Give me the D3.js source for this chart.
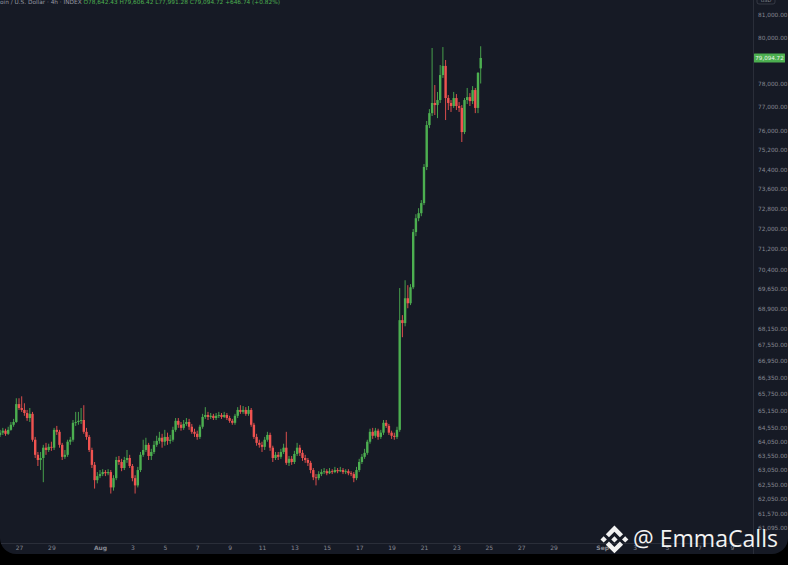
<!DOCTYPE html>
<html><head><meta charset="utf-8">
<script src="https://cdn.jsdelivr.net/npm/d3@7/dist/d3.min.js"></script>
<style>html,body{margin:0;padding:0;background:#000;}svg{display:block;}</style>
</head><body>
<svg id="chart" width="788" height="565"></svg>
<script>
// ---- DATA (4h candles, BTC/USD index) ----
const startTime = Date.UTC(2024, 6, 25, 20); // first visible candle
const barHours = 4;
const opens = [
64280,64360,64430,64320,64460,64640,64740,65380,65240,65170,
65060,64880,65030,64110,63580,63400,63470,63830,63750,63860,
63830,64460,64390,63930,63510,63580,64040,64110,64710,64740,
64780,64810,64390,64210,63750,63230,62700,62840,62910,62980,
62940,62980,62450,62770,63400,63330,63120,63400,63470,63190,
62770,62520,63050,63580,63750,63930,63540,63680,63930,64070,
64180,64040,64210,64070,64110,64460,64780,64640,64530,64670,
64740,64570,64390,64320,64210,64570,64920,64990,64920,64960,
64880,64960,64990,64920,64990,64880,64780,64710,64960,65170,
65100,65170,65030,65170,64640,64210,64000,63930,63860,64110,
64280,63830,63470,63580,63510,63680,63830,63300,63440,63330,
63610,63830,63650,63470,63400,63300,63050,62800,62770,62910,
62980,63010,62940,63010,62980,63050,63010,63050,62980,63010,
62940,62910,62770,63050,63330,63510,63650,64040,64390,64250,
64430,64210,64360,64710,64600,64360,64250,64210,64460,68470,
68360,69300,69110,69720,71870,72420,72620,73025,74490,76228,
76730,77160,77072,77285,78355,78750,77370,77160,77030,77370,
77030,76950,75935,77285,77410,77240,77711,76950,78642.43];
const highs = [
64460,64530,64500,64570,64740,64850,65590,65590,65660,65410,
65170,65240,65100,64210,63680,63680,63930,64000,63970,64040,
64530,64600,64460,64000,63750,64110,64210,64810,65100,65100,
65240,65340,64530,64280,63830,63330,62980,63050,63080,63050,
63080,63050,62870,63510,63540,63440,63510,63750,63580,63260,
62870,63160,63680,64110,64180,64000,63790,64070,64250,64390,
64320,64460,64360,64280,64570,64880,64880,64740,64810,64880,
64850,64670,64500,64430,64640,65030,65270,65100,65060,65030,
65060,65100,65060,65100,65060,64960,64850,65030,65270,65340,
65310,65270,65310,65240,64710,64320,64110,64040,64210,64390,
64360,63900,63680,63680,63790,63970,64390,63540,63540,63720,
64000,63930,63750,63580,63470,63370,63120,62910,63010,63080,
63120,63080,63120,63080,63160,63120,63160,63120,63080,63080,
63010,62980,63160,63440,63610,63790,64110,64500,64530,64530,
64500,64460,64810,64810,64670,64430,64360,64570,69690,68660,
69990,69800,69840,71990,72580,72820,73145,74610,76400,76900,
79530,77925,77630,78788,79570,79005,77498,77285,77630,77540,
77200,77072,77370,77800,77580,77880,77800,78485,79606.42];
const lows = [
64210,64280,64250,64280,64430,64570,64710,65170,65100,64960,
64780,64740,64040,63470,63190,63050,62630,63580,63680,63720,
63750,64280,63830,63400,63440,63510,63930,64040,64600,64640,
64670,64320,64110,63680,63120,62410,62590,62770,62840,62840,
62870,62240,62340,62700,63230,63010,63050,63300,63120,62660,
62240,62450,62980,63510,63680,63400,63400,63610,63860,63970,
63830,63900,63930,63970,64040,64390,64530,64430,64460,64600,
64460,64320,64210,64110,64140,64500,64850,64810,64850,64810,
64810,64880,64850,64880,64810,64710,64640,64640,64880,65030,
65030,64960,64960,64570,64140,63900,63830,63680,63750,64040,
63720,63330,63400,63400,63440,63610,63230,63190,63230,63260,
63540,63540,63370,63300,63190,62940,62700,62520,62700,62840,
62910,62870,62910,62910,62940,62940,62980,62910,62910,62870,
62840,62630,62700,62980,63260,63440,63580,63970,64140,64180,
64110,64140,64280,64530,64280,64140,64110,64140,64390,67830,
68240,68920,69040,69650,71710,72300,72500,72945,74363,76100,
76610,76650,76520,77160,78230,76439,76861,76780,76950,76861,
76780,75520,75850,77115,77030,77115,76730,76730,77991.28];
const closes = [
64360,64430,64320,64460,64640,64740,65380,65240,65170,65060,
64880,65030,64110,63580,63400,63470,63830,63750,63860,63830,
64460,64390,63930,63510,63580,64040,64110,64710,64740,64780,
64810,64390,64210,63750,63230,62700,62840,62910,62980,62940,
62980,62450,62770,63400,63330,63120,63400,63470,63190,62770,
62520,63050,63580,63750,63930,63540,63680,63930,64070,64180,
64040,64210,64070,64110,64460,64780,64640,64530,64670,64740,
64570,64390,64320,64210,64570,64920,64990,64920,64960,64880,
64960,64990,64920,64990,64880,64780,64710,64960,65170,65100,
65170,65030,65170,64640,64210,64000,63930,63860,64110,64280,
63830,63470,63580,63510,63680,63830,63300,63440,63330,63610,
63830,63650,63470,63400,63300,63050,62800,62770,62910,62980,
63010,62940,63010,62980,63050,63010,63050,62980,63010,62940,
62910,62770,63050,63330,63510,63650,64040,64390,64250,64430,
64210,64360,64710,64600,64360,64250,64210,64460,68470,68360,
69300,69110,69720,71870,72420,72620,73025,74490,76228,76730,
77160,77072,77285,78355,78750,77370,77160,77030,77370,77030,
76950,75935,77285,77410,77240,77711,76950,78447.98,79094.72];
const priceTicks = [81000,80000,78000,77000,76000,75200,74400,73600,72800,72000,71200,70400,
  69650,68900,68150,67550,66950,66350,65750,65150,64550,64050,63550,63050,62550,62050,61570,61095];
const dateTicks = ["2024-07-27","2024-07-29","2024-08-01","2024-08-03","2024-08-05","2024-08-07","2024-08-09",
  "2024-08-11","2024-08-13","2024-08-15","2024-08-17","2024-08-19","2024-08-21","2024-08-23","2024-08-25",
  "2024-08-27","2024-08-29","2024-09-01","2024-09-03","2024-09-05","2024-09-07","2024-09-09"];
const headerSymbol = "Bitcoin / U.S. Dollar · 4h · INDEX";
const headerValues = "O78,642.43 H79,606.42 L77,991.28 C79,094.72 +646.74 (+0.82%)";
const lastPrice = 79094.72;
const currency = "USD";
const watermark = "@ EmmaCalls";

// ---- DRAW ----
const W = 788, H = 565;
const bg = "#161a25", axisCol = "#2a2e39", txt = "#868993";
const up = "#4caf50", down = "#ef5350";
const svg = d3.select("#chart");

const bars = opens.map((o, i) => ({
  t: new Date(startTime + i * barHours * 3600e3), o, h: highs[i], l: lows[i], c: closes[i]
}));

const x = d3.scaleUtc().domain([new Date(Date.UTC(2024,6,26)), new Date(Date.UTC(2024,8,10))]).range([2.8, 748]);
const y = d3.scaleLog().domain([61095, 81000]).range([527.3, 14.7]);

svg.append("rect").attr("width", W).attr("height", H).attr("fill", "#000");
const defs = svg.append("defs");
defs.append("clipPath").attr("id", "frame").append("rect")
  .attr("x", 0).attr("y", -30).attr("width", W).attr("height", 584).attr("rx", 16);
defs.append("clipPath").attr("id", "plot").append("rect")
  .attr("x", 0).attr("y", 0).attr("width", 753).attr("height", 543);

const g = svg.append("g").attr("clip-path", "url(#frame)");
g.append("rect").attr("width", W).attr("height", H).attr("fill", bg);

// axis separators
g.append("line").attr("x1", 0).attr("x2", 753).attr("y1", 543.5).attr("y2", 543.5).attr("stroke", axisCol);
g.append("line").attr("x1", 753.5).attr("x2", 753.5).attr("y1", 0).attr("y2", 560).attr("stroke", axisCol);

// candles
const pg = g.append("g").attr("clip-path", "url(#plot)");
const bw = 2.4;
const cg = pg.selectAll("g.c").data(bars).join("g").attr("class", "c");
cg.append("line")
  .attr("x1", d => x(d.t)).attr("x2", d => x(d.t))
  .attr("y1", d => y(d.h)).attr("y2", d => y(d.l))
  .attr("stroke", d => d.c >= d.o ? up : down).attr("stroke-width", 0.9);
cg.append("rect")
  .attr("x", d => x(d.t) - bw / 2).attr("width", bw)
  .attr("y", d => y(Math.max(d.o, d.c)))
  .attr("height", d => Math.max(0.9, Math.abs(y(d.o) - y(d.c))))
  .attr("fill", d => d.c >= d.o ? up : down);

// price axis
const fmt = d3.format(",.2f");
const yAxis = d3.axisRight(y).tickValues(priceTicks).tickFormat(fmt).tickSize(0).tickPadding(0);
const ya = g.append("g").attr("transform", "translate(758,0)").call(yAxis);
ya.select(".domain").remove();
ya.selectAll("text").attr("fill", txt).attr("font-size", 5.8).attr("font-family", "DejaVu Sans, sans-serif").attr("dy", "0.32em");

// current price label
const ly = y(lastPrice);
g.append("rect").attr("x", 754).attr("y", ly - 4.5).attr("width", 31).attr("height", 9).attr("fill", "#4caf50").attr("rx", 0.5);
g.append("text").attr("x", 769.5).attr("y", ly).attr("dy", "0.34em").attr("text-anchor", "middle")
  .attr("fill", "#e8f5e9").attr("font-size", 5.6).attr("font-family", "DejaVu Sans, sans-serif").text(fmt(lastPrice));

// currency box
g.append("rect").attr("x", 757).attr("y", -4).attr("width", 18).attr("height", 8).attr("rx", 2)
  .attr("fill", "none").attr("stroke", "#4a4e59").attr("stroke-width", 0.6);
g.append("text").attr("x", 766).attr("y", 2.4).attr("text-anchor", "middle").attr("fill", txt)
  .attr("font-size", 5).attr("font-family", "DejaVu Sans, sans-serif").text(currency);

// time axis
const monthFmt = d3.utcFormat("%b");
const xAxis = d3.axisBottom(x).tickValues(dateTicks.map(s => new Date(s + "T00:00:00Z")))
  .tickFormat(d => d.getUTCDate() === 1 ? monthFmt(d) : String(d.getUTCDate())).tickSize(0).tickPadding(0);
const xa = g.append("g").attr("transform", "translate(0,548)").call(xAxis);
xa.select(".domain").remove();
xa.selectAll("text").attr("fill", txt).attr("font-size", 6).attr("font-family", "DejaVu Sans, sans-serif")
  .attr("dy", "0.32em").attr("font-weight", d => d.getUTCDate() === 1 ? "bold" : "normal");

// header
const ht = g.append("text").attr("x", -11).attr("y", 4).attr("font-size", 5.8).attr("font-family", "DejaVu Sans, sans-serif");
ht.append("tspan").attr("fill", "#9598a1").text(headerSymbol + "  ");
ht.append("tspan").attr("fill", "#4caf50").text(headerValues);

// watermark
const logo = g.append("g").attr("transform", "translate(600.5,525.5) scale(0.222)").attr("fill", "#f2f2f2");
logo.append("path").attr("d", "M38.171 53.203L62.759 28.616l24.6 24.6 14.3-14.3L62.759 0 23.869 38.9z");
logo.append("path").attr("d", "M0 62.759l14.3-14.3 14.3 14.3-14.3 14.3z");
logo.append("path").attr("d", "M77.066 62.751L62.759 48.444 48.445 62.758l14.314 14.301z");
logo.append("path").attr("d", "M96.918 62.759l14.3-14.3 14.3 14.3-14.3 14.3z");
logo.append("path").attr("d", "M87.359 72.3l-24.6 24.6-24.588-24.588-14.3 14.3L62.759 125.519 101.659 86.6z");
g.append("text").attr("x", 633).attr("y", 547).attr("fill", "#f2f2f2").attr("font-size", 23)
  .attr("font-family", "Open Sans, Noto Sans, sans-serif").attr("textLength", 145).attr("lengthAdjust", "spacingAndGlyphs")
  .text(watermark);
</script>
</body></html>
